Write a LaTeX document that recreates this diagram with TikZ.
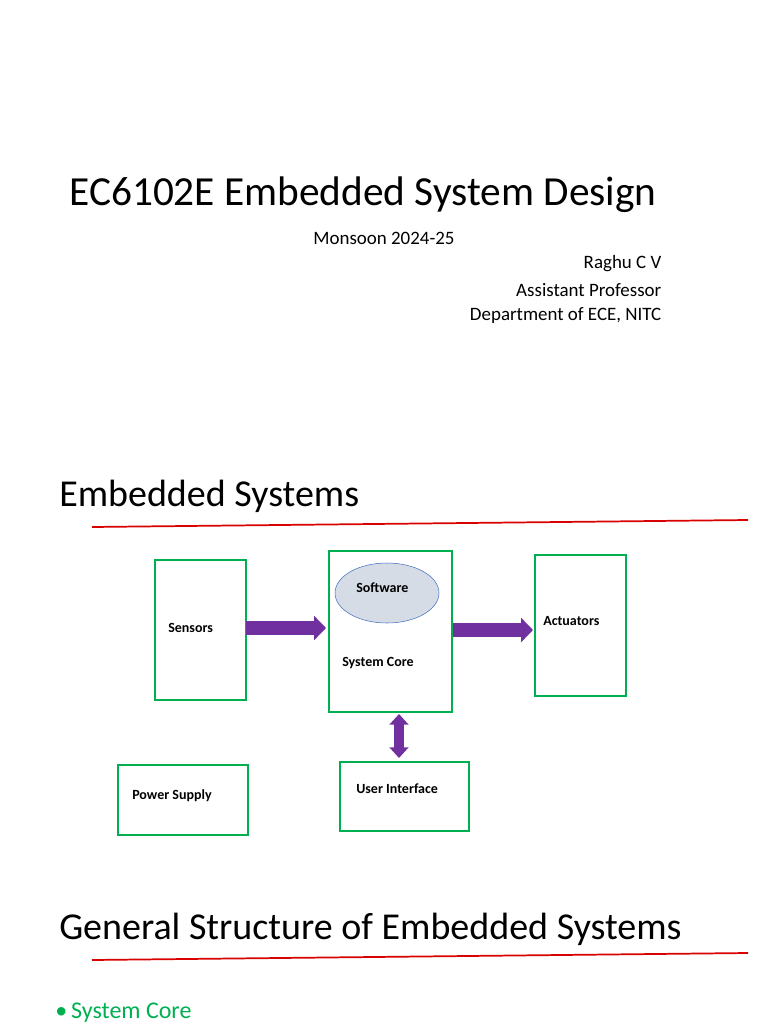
\documentclass[tikz,border=0pt]{standalone}
\usepackage{fontspec}
\setmainfont{Carlito}
\usetikzlibrary{arrows.meta,shapes.geometric}
\definecolor{bgreen}{HTML}{00B050}
\definecolor{purp}{HTML}{7030A0}
\definecolor{ellfill}{HTML}{D6DCE5}
\definecolor{ellline}{HTML}{4472C4}
\tikzset{
 blk/.style={draw=bgreen,line width=2.2pt},
 lbl/.style={font=\bfseries\fontsize{10.5}{12}\selectfont,anchor=west,inner sep=0},
 fat/.style={purp,line width=10.5pt,-{Triangle[length=9pt,width=18pt]}},
 fatd/.style={purp,line width=7pt,{Triangle[length=8pt,width=14pt]}-{Triangle[length=8pt,width=14pt]}},
 redl/.style={red!85!black,line width=1.3pt}
}
\begin{document}
\begin{tikzpicture}[x=0.75pt,y=-0.75pt]
\useasboundingbox (0,0) rectangle (768,1024);
\node[anchor=center,font=\fontsize{31}{36}\selectfont] (title) at (363,195) {EC6102E Embedded System Design};
\node[font=\fontsize{14.2}{16}\selectfont] (mon) at (384,238) {Monsoon 2024-25};
\node[font=\fontsize{14.2}{16}\selectfont,anchor=east] (r1) at (666,264) {Raghu C V};
\node[font=\fontsize{14.2}{16}\selectfont,anchor=east] (r2) at (666,290) {Assistant Professor};
\node[font=\fontsize{14.2}{16}\selectfont,anchor=east] (r3) at (666,316) {Department of ECE, NITC};

\node[font=\fontsize{28.5}{32}\selectfont,anchor=west,inner sep=0] (h1) at (59,496) {Embedded Systems};
\draw[redl] (92,527) -- (748,520);

\draw[blk] (155,560) rectangle (246,700);
\draw[blk] (329,551) rectangle (452,712);
\draw[blk] (535,555) rectangle (626,696);
\draw[blk] (118,765) rectangle (248,835);
\draw[blk] (340,762) rectangle (469,831);
\node[ellipse,draw=ellline,fill=ellfill,inner sep=0,minimum width=78pt,minimum height=45pt] (sw) at (387,593) {};
\node[lbl] (swt) at (356,588) {Software};
\node[lbl] (sen) at (168,628) {Sensors};
\node[lbl] (core) at (342,663) {System Core};
\node[lbl] (act) at (543,621) {Actuators};
\node[lbl] (ps) at (132,796) {Power Supply};
\node[lbl] (ui) at (356,789) {User Interface};
\coordinate (a1) at (246,628); \coordinate (a2) at (326,628);
\coordinate (b1) at (453,630); \coordinate (b2) at (533,630);
\coordinate (c1) at (399,714); \coordinate (c2) at (399,758);
\draw[fat] (a1) -- (a2);
\draw[fat] (b1) -- (b2);
\draw[fatd] (c1) -- (c2);

\node[font=\fontsize{28.5}{32}\selectfont,anchor=west,inner sep=0] (h2) at (59,929) {General Structure of Embedded Systems};
\draw[redl] (92,960) -- (748,953);
\node[font=\fontsize{18}{20}\selectfont,anchor=west,inner sep=0,text=bgreen] (bul) at (55,1013) {•\,System Core};
\end{tikzpicture}
\end{document}
